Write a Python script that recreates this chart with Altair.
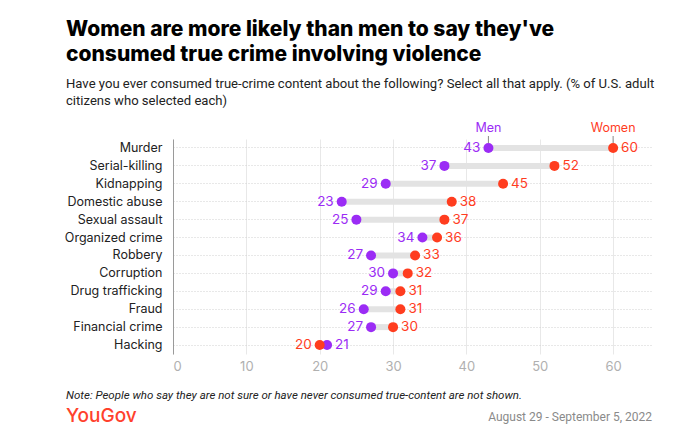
import altair as alt
import pandas as pd

categories = ["Murder", "Serial-killing", "Kidnapping", "Domestic abuse", "Sexual assault",
              "Organized crime", "Robbery", "Corruption", "Drug trafficking", "Fraud",
              "Financial crime", "Hacking"]
men = [43, 37, 29, 23, 25, 34, 27, 30, 29, 26, 27, 21]
women = [60, 52, 45, 38, 37, 36, 33, 32, 31, 31, 30, 20]
x_ticks = [0, 10, 20, 30, 40, 50, 60]

title_lines = ["Women are more likely than men to say they've",
               "consumed true crime involving violence"]
subtitle_lines = ["Have you ever consumed true-crime content about the following? Select all that apply. (% of U.S. adult",
                  "citizens who selected each)"]
note = "Note: People who say they are not sure or have never consumed true-content are not shown."
source = "YouGov"
date = "August 29 - September 5, 2022"

PURPLE = "#9b2cf5"
RED = "#ff3d1f"
FONT = "Inter"
FONT2 = "Roboto"

wide = pd.DataFrame({"category": categories, "Men": men, "Women": women})
rows = []
for c, m, w in zip(categories, men, women):
    rows.append({"category": c, "gender": "Men", "value": m, "side": "left" if m <= w else "right"})
    rows.append({"category": c, "gender": "Women", "value": w, "side": "right" if w >= m else "left"})
long = pd.DataFrame(rows)

W, H = 479, 215
L0, T0 = 173, 139
xscale = alt.Scale(domain=[0, 65.3], nice=False, zero=False)
yenc = alt.Y("category:N", sort=categories, title=None,
             scale=alt.Scale(paddingInner=0, paddingOuter=0),
             axis=alt.Axis(labelFont=FONT, labelFontSize=12.5, labelColor="#222",
                           labelPadding=11, ticks=False, domain=True, domainColor="#9a9a9a",
                           grid=True, gridDash=[1, 2], gridColor="#d0d0d0",
                           bandPosition=0.5))
xenc_axis = alt.Axis(values=x_ticks, labelFont=FONT, labelFontSize=13, labelColor="#b0b0b0",
                     ticks=False, domain=False, grid=True, gridColor="#e8e8e8",
                     labelPadding=6, title=None)
color = alt.Color("gender:N", scale=alt.Scale(domain=["Men", "Women"], range=[PURPLE, RED]),
                  legend=None)

base_long = alt.Chart(long)

bars = alt.Chart(wide).mark_rule(color="#e3e3e3", strokeWidth=6).encode(
    x=alt.X("Men:Q", scale=xscale, axis=xenc_axis),
    x2="Women:Q",
    y=yenc,
)

dots = base_long.mark_circle(size=100, opacity=1).encode(
    x=alt.X("value:Q", scale=xscale),
    y=alt.Y("category:N", sort=categories),
    color=color,
)

lab_left = base_long.transform_filter("datum.side == 'left'").mark_text(
    align="right", baseline="middle", dx=-8, font=FONT, fontSize=13.5).encode(
    x=alt.X("value:Q", scale=xscale),
    y=alt.Y("category:N", sort=categories),
    text="value:Q", color=color)

lab_right = base_long.transform_filter("datum.side == 'right'").mark_text(
    align="left", baseline="middle", dx=8, font=FONT, fontSize=13.5).encode(
    x=alt.X("value:Q", scale=xscale),
    y=alt.Y("category:N", sort=categories),
    text="value:Q", color=color)

first = long[long["category"] == categories[0]]
legend_text = alt.Chart(first).mark_text(baseline="bottom", font=FONT, fontSize=12.5).encode(
    x=alt.X("value:Q", scale=xscale),
    y=alt.value(-4),
    text="gender:N", color=color)
legend_tick = alt.Chart(first).mark_rule(color="#888", strokeWidth=1).encode(
    x=alt.X("value:Q", scale=xscale),
    y=alt.value(-3), y2=alt.value(4))

def txt(s, x, y, font=FONT, **kw):
    return alt.Chart(pd.DataFrame({"t": [s]})).mark_text(align=kw.pop("align", "left"),
        baseline="middle", font=font, **kw).encode(x=alt.value(x), y=alt.value(y), text="t:N")

L = 66 - L0
annotations = [
    txt(title_lines[0], L, 30 - T0, fontSize=21, fontWeight=800, color="#000"),
    txt(title_lines[1], L, 55 - T0, fontSize=21, fontWeight=800, color="#000"),
    txt(subtitle_lines[0], L, 84 - T0, font=FONT2, fontSize=13.1, color="#222"),
    txt(subtitle_lines[1], L, 101 - T0, font=FONT2, fontSize=13.1, color="#222"),
    txt(note, L, 396 - T0, font=FONT2, fontSize=11.5, fontStyle="italic", color="#222"),
    txt(source, L, 416 - T0, fontSize=19, color="#ff412c", fontWeight=500),
    txt(date, 652 - L0, 417 - T0, font=FONT2, fontSize=12, color="#8a8a8a", align="right"),
]

chart = alt.layer(bars, dots, lab_left, lab_right, legend_tick, legend_text, *annotations).properties(
    width=W, height=H,
    autosize=alt.AutoSizeParams(type="none"),
    padding={"left": L0, "top": T0, "right": 690 - L0 - W, "bottom": 444 - T0 - H},
    background="white",
).configure_view(stroke=None)

chart.save("out.html", embed_options={"renderer": "svg", "actions": False})
